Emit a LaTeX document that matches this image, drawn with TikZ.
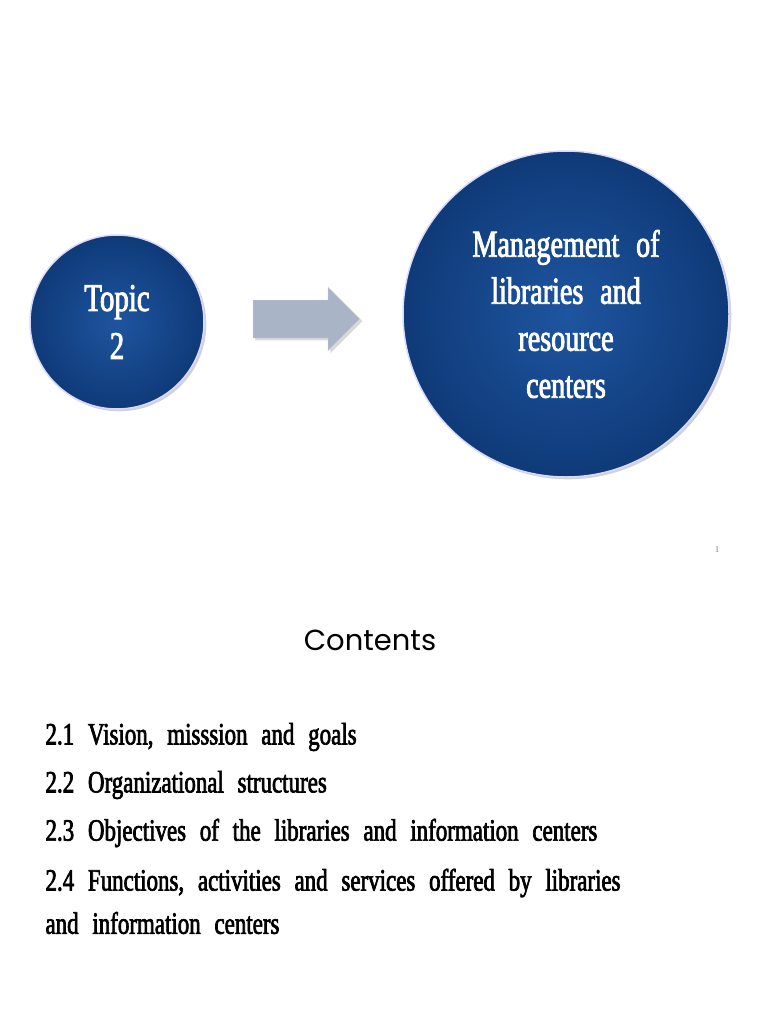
\documentclass[tikz,border=0pt]{standalone}
\usepackage{fontspec}
\setmainfont{Liberation Serif}
\newfontfamily\cond[FakeStretch=0.74,FakeBold=2.2,WordSpace=2.4]{Liberation Serif}
\newfontfamily\gothic{Poppins}
\usetikzlibrary{shadows}
\definecolor{dblue}{HTML}{0F3A78}
\definecolor{lblue}{HTML}{1E55A0}
\definecolor{arrowfill}{HTML}{A9B4C6}
\tikzset{
  ball/.style={circle,draw=white!85!blue,line width=1.5pt,inner color=lblue,outer color=dblue,text=white,align=center,drop shadow={opacity=0.35}},
  item/.style={anchor=west,font=\cond\fontsize{31}{36}\selectfont}
}
\begin{document}
\begin{tikzpicture}[x=1pt,y=-1pt]
\useasboundingbox (0,0) rectangle (768,1024);
\fill[white] (0,0) rectangle (768,1024);
\node[ball,minimum size=174pt,font=\cond\fontsize{39}{48}\selectfont] (topic) at (117,322) {Topic\\2};
\node[ball,minimum size=326pt,font=\cond\fontsize{38}{47}\selectfont] (mgmt) at (566,314) {Management of\\libraries and\\resource\\centers};
\draw[draw=white!70!gray,fill=arrowfill,drop shadow={opacity=0.3}] (253,300) -- (328,300) -- (328,287) -- (360,319) -- (328,351) -- (328,338) -- (253,338) -- cycle;
\node[text=gray,font=\fontsize{9}{10}\selectfont] (pg) at (717,550) {1};
\node[font=\gothic\fontsize{29}{34}\selectfont] (title) at (370,640) {Contents};
\node[item] (i1) at (42,737) {2.1 Vision, misssion and goals};
\node[item] (i2) at (42,785) {2.2 Organizational structures};
\node[item] (i3) at (42,833) {2.3 Objectives of the libraries and information centers};
\node[item] (i4) at (42,883) {2.4 Functions, activities and services offered by libraries};
\node[item] (i5) at (42,923) {and information centers};
\end{tikzpicture}
\end{document}
